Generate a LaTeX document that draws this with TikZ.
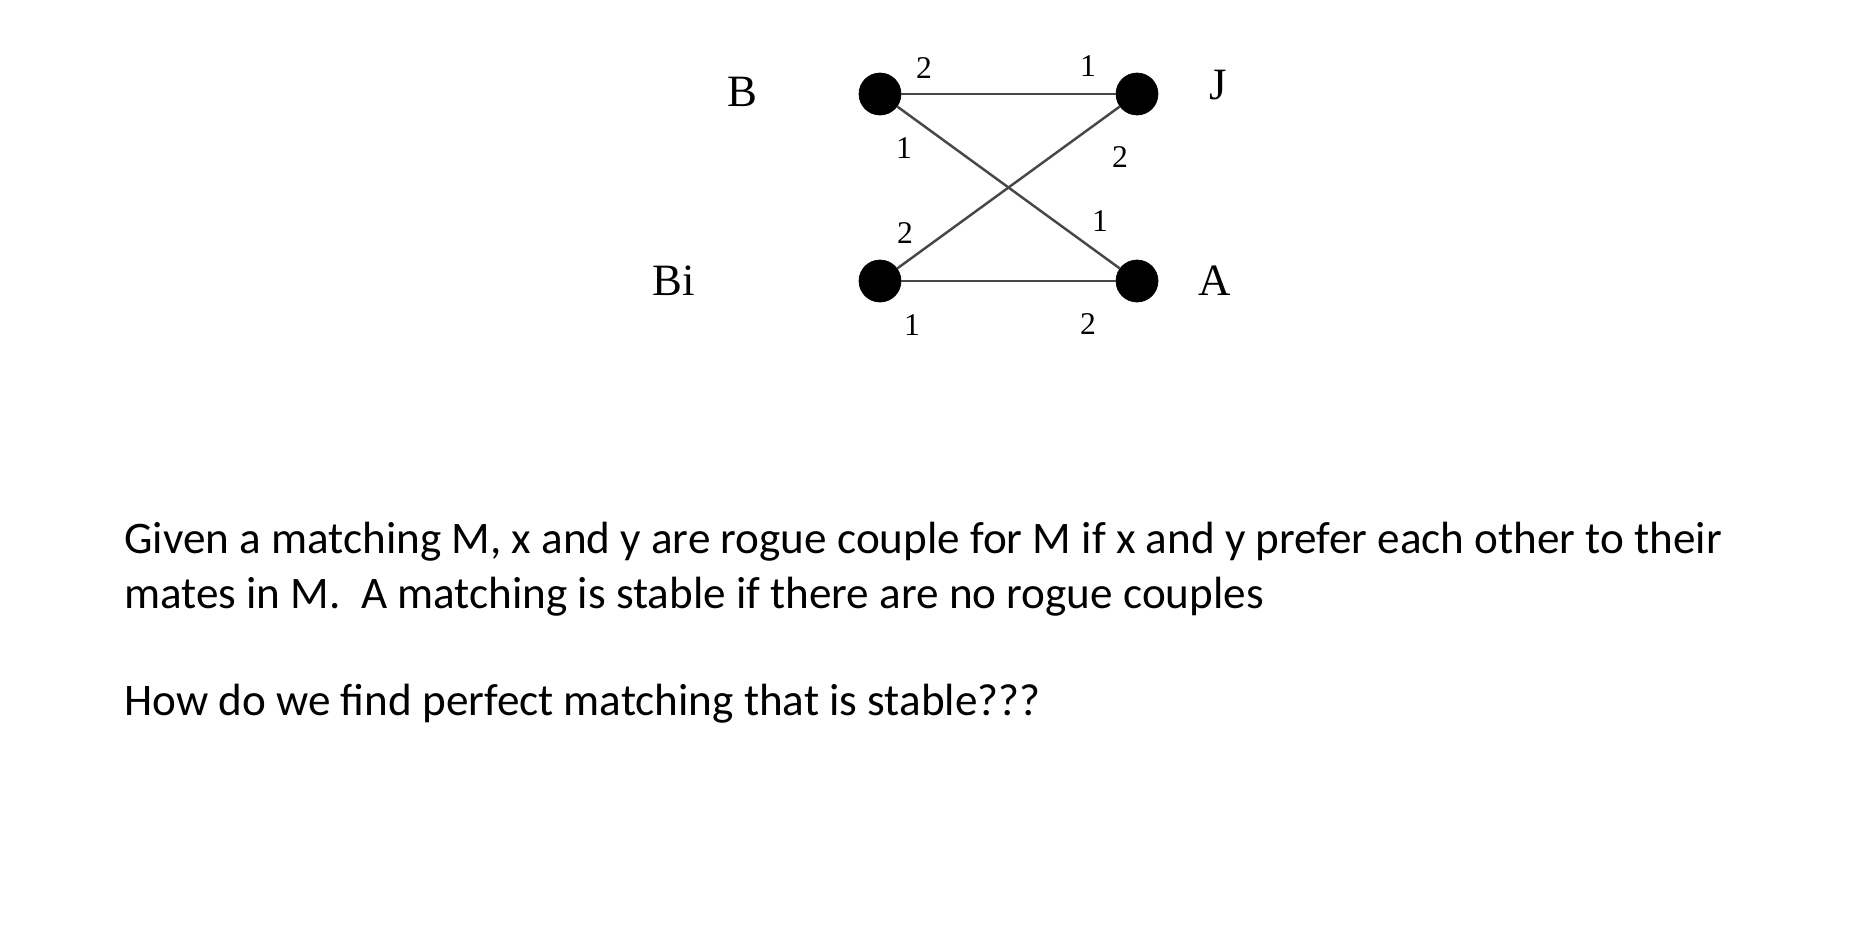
\documentclass[tikz,border=0pt]{standalone}
\usepackage{fontspec}
\setmainfont{Liberation Serif}
\newfontfamily\slidefont{Carlito}
\usetikzlibrary{positioning}
\tikzset{%
	vertex/.style = {circle, fill=black, draw=black, inner sep=0pt,
		minimum size=0.84cm},
	person/.style = {font=\fontsize{25.5}{28}\selectfont},
	wt/.style     = {font=\fontsize{18}{20}\selectfont, inner sep=0pt},
	edge/.style   = {draw=black!72, line width=1.4pt},
	slide/.style  = {anchor=base west, inner sep=0pt,
		font=\slidefont\fontsize{25.7}{31.3}\selectfont}
}
\begin{document}
\begin{tikzpicture}[x=0.02cm, y=-0.02cm]
        \useasboundingbox (0,0) rectangle (1853,940);
        \draw
            node at (880,94) [vertex, name=b] {}
            node at (1137,94) [vertex, name=j] {}
            node at (880,281) [vertex, name=bi] {}
            node at (1137,281) [vertex, name=a] {};

            \draw[edge] (b) -- (j);
            \draw[edge] (b) -- (a);
            \draw[edge] (bi) -- (j);
            \draw[edge] (bi) -- (a);

            % names
            \node [person] (lb) at (742,92) {B};
            \node [person] (lj) at (1218,85) {J};
            \node [person] (lbi) at (674,281) {Bi};
            \node [person] (la) at (1215,281) {A};

            % preferences
            \node [wt] (w1) at (924,68) {2};
            \node [wt] (w2) at (1088,66) {1};
            \node [wt] (w3) at (904,148) {1};
            \node [wt] (w4) at (1120,157) {2};
            \node [wt] (w5) at (905,233) {2};
            \node [wt] (w6) at (1100,221) {1};
            \node [wt] (w7) at (912,325) {1};
            \node [wt] (w8) at (1088,324) {2};

            \node [slide, align=left] (txt) at (124,608)
                {Given a matching M, x and y are rogue couple for M if x and y prefer each other to their\\
                 mates in M.\ \ A matching is stable if there are no rogue couples};
            \node [slide] (q) at (124,715)
                {How do we find perfect matching that is stable???};
    \end{tikzpicture}
\end{document}
